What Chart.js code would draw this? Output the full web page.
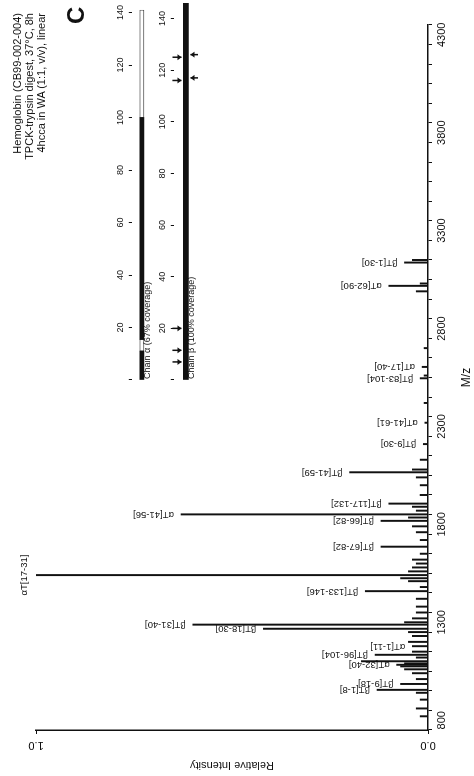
<!DOCTYPE html>
<html>
<head>
<meta charset="utf-8">
<script src="https://cdn.jsdelivr.net/npm/chart.js@4"></script>
<style>
  body { margin: 0; background: #fff; width: 474px; height: 776px; overflow: hidden; }
  #wrap { position: absolute; left: 0; top: 776px; width: 776px; height: 474px;
          transform: rotate(-90deg); transform-origin: 0 0; font-family: "Liberation Sans", Arial, sans-serif; }
  canvas { position: absolute; }
  .t { position: absolute; white-space: nowrap; color: #111; }
</style>
</head>
<body>
<div id="wrap">
  <canvas id="spec" width="776" height="474" style="left:0;top:0"></canvas>
  <canvas id="chainA" width="388" height="40" style="left:386px;top:112px"></canvas>
  <canvas id="chainB" width="391" height="44" style="left:386px;top:154px"></canvas>
  <div class="t" style="right:13px;top:11px;font-size:11px;line-height:12px;text-align:right">
    Hemoglobin (CB99-002-004)<br>TPCK-trypsin digest, 37°C, 8h<br>4hcca in WA (1:1, v/v), linear</div>
  <div class="t" style="left:752px;top:62px;font-size:24px;font-weight:bold">C</div>
  <div class="t" style="left:397px;top:142px;font-size:9px">Chain α (67% coverage)</div>
  <div class="t" style="left:397px;top:186px;font-size:9px">Chain β (100% coverage)</div>
</div>
<script>
// labelled peaks
const peakMz = [955, 985, 1083, 1101, 1134, 1178, 1267, 1288, 1459, 1541, 1686, 1818, 1851, 1906, 2066, 2210, 2319, 2546, 2604, 3018, 3137];
const peakInt = [0.13, 0.07, 0.08, 0.17, 0.135, 0.04, 0.42, 0.60, 0.16, 1.0, 0.12, 0.12, 0.63, 0.10, 0.20, 0.012, 0.008, 0.02, 0.015, 0.10, 0.06];
const peakLabel = ['βT[1-8]', 'βT[9-18]', 'αT[32-40]', '', 'βT[96-104]', 'αT[1-11]', 'βT[18-30]', 'βT[31-40]', 'βT[133-146]',
  'αT[17-31]', 'βT[67-82]', 'βT[66-82]', 'αT[41-56]', 'βT[117-132]', 'βT[41-59]', 'βT[9-30]', 'αT[41-61]', 'βT[83-104]', 'αT[17-40]', 'αT[62-90]', 'βT[1-30]'];
// unlabelled small peaks
const noiseMz = [820, 860, 905, 940, 1010, 1040, 1060, 1075, 1090, 1120, 1150, 1200, 1230, 1250, 1300, 1320, 1350, 1380, 1420, 1480, 1510, 1525,
  1560, 1580, 1600, 1620, 1650, 1720, 1760, 1790, 1835, 1870, 1890, 1950, 2000, 2040, 2080, 2130, 2420, 2560, 2700, 2990, 3030, 3150];
const noiseInt = [0.02, 0.03, 0.02, 0.03, 0.03, 0.04, 0.06, 0.07, 0.06, 0.03, 0.04, 0.05, 0.04, 0.05, 0.06, 0.04, 0.03, 0.03, 0.03, 0.02, 0.05, 0.07,
  0.05, 0.04, 0.03, 0.04, 0.02, 0.02, 0.03, 0.04, 0.05, 0.03, 0.04, 0.02, 0.02, 0.03, 0.04, 0.02, 0.01, 0.01, 0.01, 0.03, 0.02, 0.04];
const mzTicks = [800, 1300, 1800, 2300, 2800, 3300, 3800, 4300];

// sequence coverage insets
const residueTicks = [0, 20, 40, 60, 80, 100, 120, 140];
const alphaCovered = [[0, 11], [15.5, 100]];
const alphaMissing = [[11, 15.5], [100, 141]];
const betaCovered = [[0, 146]];
const arrowsAbove = [7, 11.5, 20, 116, 125];
const arrowsBelow = [117, 126];

const black = '#111';
const font = 'Liberation Sans, Arial, sans-serif';

const peakPoints = peakMz.map((m, i) => ({x: m, y: peakInt[i]}))
  .concat(noiseMz.map((m, i) => ({x: m, y: noiseInt[i]})));

const specDecor = {
  id: 'specDecor',
  afterDraw(chart) {
    const {ctx, scales: {x, y}} = chart;
    ctx.save();
    ctx.fillStyle = black;
    ctx.font = '9.5px ' + font;
    ctx.textBaseline = 'middle';
    peakMz.forEach((m, i) => {
      const lab = peakLabel[i];
      if (!lab) return;
      const px = x.getPixelForValue(m), py = y.getPixelForValue(peakInt[i]);
      if (peakInt[i] >= 1) {
        ctx.textAlign = 'center';
        ctx.fillText(lab, px, py - 12);
        return;
      }
      ctx.save();
      ctx.translate(px, py - 7);
      ctx.rotate(-Math.PI / 2);
      ctx.textAlign = 'left';
      ctx.fillText(lab, 0, 0);
      ctx.restore();
    });
    // y axis labels
    ctx.font = '11px ' + font;
    [[0, '0.0'], [1, '1.0']].forEach(([v, t]) => {
      ctx.save();
      ctx.translate(31, y.getPixelForValue(v));
      ctx.rotate(-Math.PI / 2);
      ctx.textAlign = 'center';
      ctx.fillText(t, 0, 0);
      ctx.restore();
    });
    ctx.save();
    ctx.translate(11, (y.top + y.bottom) / 2);
    ctx.rotate(-Math.PI / 2);
    ctx.textAlign = 'center';
    ctx.fillText('Relative Intensity', 0, 0);
    ctx.restore();
    ctx.font = '12px ' + font;
    ctx.textAlign = 'center';
    ctx.fillText('M/z', (x.left + x.right) / 2, 467);
    ctx.restore();
  }
};

new Chart(document.getElementById('spec').getContext('2d'), {
  type: 'bar',
  data: {datasets: [{data: peakPoints, backgroundColor: black, barThickness: 1.3}]},
  options: {
    responsive: false, animation: false,
    layout: {padding: {left: 46, right: 25, top: 36, bottom: 0}},
    plugins: {legend: {display: false}, tooltip: {enabled: false}},
    scales: {
      x: {
        type: 'linear', min: 800, max: 4300,
        afterFit: s => { s.height = 46; },
        border: {color: black, width: 1.5},
        grid: {drawOnChartArea: false, tickLength: 4, color: black},
        ticks: {stepSize: 100, autoSkip: false, maxRotation: 0, color: black, font: {size: 11, family: font},
          callback: v => mzTicks.includes(v) ? v : ''}
      },
      y: {
        min: 0, max: 1,
        afterFit: s => { s.width = 0; },
        border: {color: black, width: 1.5},
        grid: {drawOnChartArea: false, tickLength: 4, color: black},
        ticks: {display: false, stepSize: 1}
      }
    }
  },
  plugins: [specDecor]
});

function coverageChart(id, max, covered, missing, thick, arrows) {
  const datasets = [{data: covered.map(r => ({x: r, y: 'c'})), backgroundColor: black, barThickness: thick}];
  if (missing.length) datasets.push({data: missing.map(r => ({x: r, y: 'c'})), backgroundColor: '#fff',
    borderColor: black, borderWidth: 0.8, borderSkipped: false, barThickness: thick});
  new Chart(document.getElementById(id).getContext('2d'), {
    type: 'bar',
    data: {labels: ['c'], datasets},
    options: {
      indexAxis: 'y', responsive: false, animation: false,
      layout: {padding: {left: 10, right: 4, top: 0, bottom: 0}},
      plugins: {legend: {display: false}, tooltip: {enabled: false}},
      datasets: {bar: {grouped: false}},
      scales: {
        x: {type: 'linear', position: 'top', min: 0, max: max,
          afterBuildTicks: s => { s.ticks = residueTicks.map(v => ({value: v})); },
          border: {display: false},
          grid: {drawOnChartArea: false, tickLength: 3, color: black},
          ticks: {autoSkip: false, color: black, font: {size: 9, family: font}, maxRotation: 0,
            callback: v => v === 0 ? '' : v}},
        y: {display: false}
      }
    },
    plugins: [{
      id: 'arrows',
      afterDraw(chart) {
        if (!arrows) return;
        const {ctx, scales: {x, y}} = chart;
        const cy = y.getPixelForValue(0);
        ctx.save();
        ctx.fillStyle = black; ctx.strokeStyle = black; ctx.lineWidth = 1.5;
        const draw = (r, dir) => {
          const px = x.getPixelForValue(r);
          const tip = cy - dir * (thick / 2 + 2), tail = tip - dir * 9;
          ctx.beginPath(); ctx.moveTo(px, tail); ctx.lineTo(px, tip); ctx.stroke();
          ctx.beginPath(); ctx.moveTo(px - 3, tip - dir * 4); ctx.lineTo(px + 3, tip - dir * 4); ctx.lineTo(px, tip); ctx.fill();
        };
        arrows.above.forEach(r => draw(r, 1));
        arrows.below.forEach(r => draw(r, -1));
        ctx.restore();
      }
    }]
  });
}

coverageChart('chainA', 141, alphaCovered, alphaMissing, 4, null);
coverageChart('chainB', 146, betaCovered, [], 5, {above: arrowsAbove, below: arrowsBelow});
</script>
</body>
</html>
